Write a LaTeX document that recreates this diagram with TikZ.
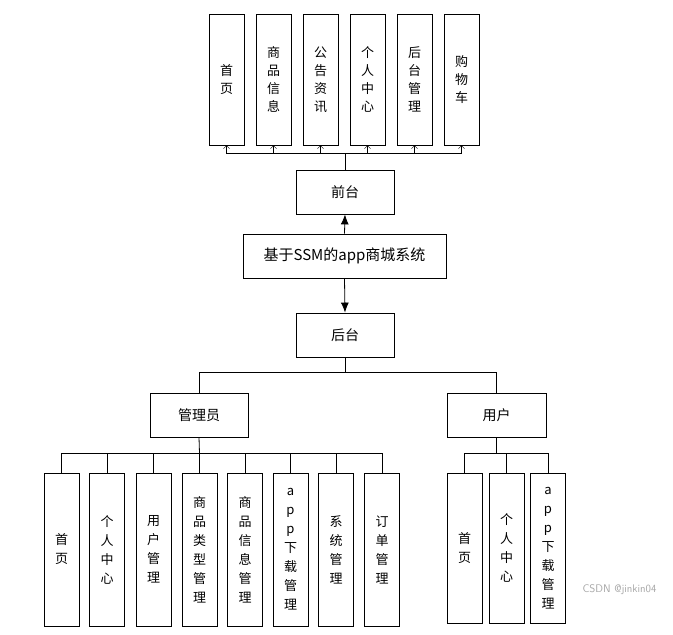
\documentclass[tikz,border=0pt]{standalone}
\usepackage{fontspec}
\newfontfamily\cjk{Noto Sans CJK SC}
\usetikzlibrary{arrows.meta}
\begin{document}
\begin{tikzpicture}[x=1pt,y=-1pt,
  box/.style={draw,thick,inner sep=0pt,font=\cjk\fontsize{13}{18}\selectfont,align=center},
  line/.style={draw,thick}]
\useasboundingbox (0,0) rectangle (673,635);
% top
\foreach \n/\x/\t in {t1/226.5/首\\页, t2/273.5/商\\品\\信\\息, t3/320.5/公\\告\\资\\讯, t4/367.5/个\\人\\中\\心, t5/414.5/后\\台\\管\\理, t6/461.5/购\\物\\车}
  \node[box,minimum width=35,minimum height=131] (\n) at (\x,79.5) {\t};
\node[box,minimum width=98,minimum height=44,font=\cjk\fontsize{14}{16}\selectfont] (qt) at (345,192) {前台};
\node[box,minimum width=203,minimum height=44,font=\cjk\fontsize{15}{16}\selectfont] (sys) at (344.5,256) {基于SSM的app商城系统};
\node[box,minimum width=98,minimum height=44,font=\cjk\fontsize{14}{16}\selectfont] (ht) at (345,335) {后台};
\node[box,minimum width=98,minimum height=44,font=\cjk\fontsize{14}{16}\selectfont] (adm) at (199,415) {管理员};
\node[box,minimum width=99,minimum height=44,font=\cjk\fontsize{14}{16}\selectfont] (usr) at (496.5,415) {用户};
\coordinate (tb) at (345,153);
\draw[line] (qt.north) -- (tb);
\foreach \n in {t1,t2,t3,t4,t5,t6}
  \draw[thin,-{Straight Barb[length=3pt,width=6pt]}] (tb) -| (\n.south);
\draw[line,-{Latex[length=10pt,width=8pt]}] (sys.north) -- (qt.south);
\draw[line,-{Latex[length=10pt,width=8pt]}] (sys.south) -- (ht.south|-ht.north);
\coordinate (hb) at (345,372);
\draw[line] (ht.south) -- (hb);
\draw[line] (hb) -| (adm.north);
\draw[line] (hb) -| (usr.north);
% admin children
\foreach \n/\x/\t in {a1/61.5/首\\页, a2/107/个\\人\\中\\心, a3/153.5/用\\户\\管\\理, a4/199.5/商\\品\\类\\型\\管\\理, a5/245/商\\品\\信\\息\\管\\理, a6/290.5/a\\p\\p\\下\\载\\管\\理, a7/336/系\\统\\管\\理, a8/382/订\\单\\管\\理}
  \node[box,minimum width=35,minimum height=153,font=\cjk\fontsize{13}{19}\selectfont] (\n) at (\x,549.5) {\t};
\coordinate (ab) at (199.5,453);
\draw[line] (adm.south) -- (ab);
\foreach \n in {a1,a2,a3,a4,a5,a6,a7,a8}
  \draw[line] (ab) -| (\n.north);
\foreach \n/\x/\t in {u1/464.5/首\\页, u2/506.5/个\\人\\中\\心, u3/548/a\\p\\p\\下\\载\\管\\理}
  \node[box,minimum width=35,minimum height=150,font=\cjk\fontsize{13}{19}\selectfont] (\n) at (\x,548) {\t};
\coordinate (ub) at (496.5,453);
\draw[line] (usr.south) -- (ub);
\foreach \n in {u1,u2,u3}
  \draw[line] (ub) -| (\n.north);
\node[text=gray!70,font=\sffamily\fontsize{11}{12}\selectfont,anchor=east] (wm) at (660,590) {CSDN @jinkin04};
\end{tikzpicture}
\end{document}
